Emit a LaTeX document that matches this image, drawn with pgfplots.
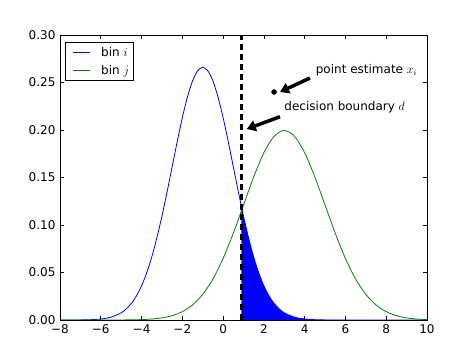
\documentclass[border=0pt]{standalone}
\usepackage{pgfplots}
\pgfplotsset{compat=1.18}
\usepackage{fontspec}
\setmainfont{DejaVu Sans}
\usetikzlibrary{arrows.meta}
\begin{document}
\begin{tikzpicture}
\begin{axis}[
  scale only axis, width=367pt, height=285pt,
  xmin=-8, xmax=10, ymin=0, ymax=0.3,
  xtick={-8,-6,-4,-2,0,2,4,6,8,10},
  xticklabels={−8,−6,−4,−2,0,2,4,6,8,10},
  ytick={0,0.05,0.1,0.15,0.2,0.25,0.3},
  yticklabels={0.00,0.05,0.10,0.15,0.20,0.25,0.30},
  tick align=inside, major tick length=4pt,
  tick style={black, line width=0.6pt},
  axis line style={black, line width=0.8pt},
  ticklabel style={font=\fontsize{12}{14}\selectfont},
  xticklabel style={yshift=-1pt},
  yticklabel style={xshift=-1pt},
  legend style={at={(0,1)}, anchor=north west, xshift=5pt, yshift=-7pt,
    draw=black, line width=0.8pt, font=\fontsize{12}{14}\selectfont,
    inner xsep=2pt, inner ysep=3pt, row sep=3pt},
  legend cell align=left,
  legend image code/.code={\path (5pt,0pt) -- (22pt,0pt); \path (0pt,0pt) (31pt,0pt);},
]
\addplot[color=blue, line width=0.8pt, smooth] coordinates {
(-8,0.000005) (-7.5,0.0000222) (-7,0.0000892) (-6.5,0.00032) (-6,0.001028) (-5.5,0.002955) (-5,0.007596) (-4.75,0.011685) (-4.5,0.017477) (-4.25,0.025434) (-4,0.035994) (-3.75,0.049538) (-3.5,0.066317) (-3.25,0.086344) (-3,0.10934) (-2.75,0.13467) (-2.5,0.161313) (-2.25,0.18795) (-2,0.212965) (-1.75,0.23471) (-1.5,0.251589) (-1.25,0.26229) (-1,0.265962) (-0.75,0.26229) (-0.5,0.251589) (-0.25,0.23471) (0,0.212965) (0.25,0.18795) (0.5,0.161313) (0.75,0.13467) (1,0.10934) (1.25,0.086344) (1.5,0.066317) (1.75,0.049538) (2,0.035994) (2.25,0.025434) (2.5,0.017477) (2.75,0.011685) (3,0.007596) (3.5,0.002955) (4,0.001028) (4.5,0.00032) (5,0.0000892) (5.5,0.0000222) (6,0.000005) (7,0) (8,0) (9,0) (10,0)
};
\addlegendentry{bin $i$}
\addplot[color=green!50!black, line width=0.8pt, smooth] coordinates {
(-8,0) (-7,0.0000007) (-6,0.000008) (-5.5,0.0000239) (-5,0.0000669) (-4.5,0.000176) (-4,0.000436) (-3.5,0.001015) (-3,0.002216) (-2.5,0.004547) (-2,0.008764) (-1.5,0.01587) (-1,0.026995) (-0.5,0.043139) (0,0.064759) (0.5,0.091324) (1,0.120985) (1.5,0.150569) (2,0.176033) (2.5,0.193334) (3,0.199471) (3.5,0.193334) (4,0.176033) (4.5,0.150569) (5,0.120985) (5.5,0.091324) (6,0.064759) (6.5,0.043139) (7,0.026995) (7.5,0.01587) (8,0.008764) (8.5,0.004547) (9,0.002216) (9.5,0.001015) (10,0.000436)
};
\addlegendentry{bin $j$}
\addplot[fill=blue, draw=none, smooth, forget plot] coordinates {
(0.9,0.11924) (1,0.10934) (1.25,0.086344) (1.5,0.066317) (1.75,0.049538) (2,0.035994) (2.25,0.025434) (2.5,0.017477) (2.75,0.011685) (3,0.007596) (3.5,0.002955) (4,0.001028) (4.5,0.00032) (5,0.0000892) (6,0.000005)
} \closedcycle;
\addplot[black, line width=2.6pt, dash pattern=on 6pt off 4pt, forget plot] coordinates {(0.9,0) (0.9,0.3)};
\addplot[only marks, mark=*, mark size=2.5pt, black, forget plot] coordinates {(2.5,0.24)};
\draw[-{Triangle[length=9pt,width=11pt]}, line width=3.5pt, black] (axis cs:4.26,0.2547) -- (axis cs:2.79,0.24);
\draw[-{Triangle[length=9pt,width=11pt]}, line width=3.5pt, black] (axis cs:2.79,0.214) -- (axis cs:1.16,0.201);
\node[anchor=base west, font=\fontsize{12}{14}\selectfont, inner sep=0pt] at (axis cs:4.54,0.259) {point estimate $x_i$};
\node[anchor=base west, font=\fontsize{12}{14}\selectfont, inner sep=0pt] at (axis cs:3.0,0.22) {decision boundary $d$};
\end{axis}
\path (current axis.south west) ++(-60pt,-35pt) rectangle ++(474pt,355pt);
\end{tikzpicture}
\end{document}
